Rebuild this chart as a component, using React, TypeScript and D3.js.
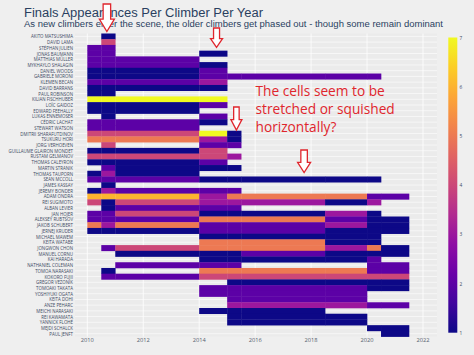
import React from 'react';
import * as d3 from 'd3';

const title = 'Finals Appearances Per Climber Per Year';
const subtitle = 'As new climbers enter the scene, the older climbers get phased out - though some remain dominant';

const climbers = [
  'AKITO MATSUSHIMA', 'DAVID LAMA', 'STÉPHAN JULIEN', 'JONAS BAUMANN', 'MATTHIAS MÜLLER',
  'MYKHAYLO SHALAGIN', 'DANIEL WOODS', 'GABRIELE MORONI', 'KLEMEN BECAN', 'DAVID BARRANS',
  'PAUL ROBINSON', 'KILIAN FISCHHUBER', 'LOÏC GAIDOZ', 'EDWARD FEEHALLY', 'LUKAS ENNEMOSER',
  'CÉDRIC LACHAT', 'STEWART WATSON', 'DMITRII SHARAFUTDINOV', 'TSUKURU HORI', 'JORG VERHOEVEN',
  'GUILLAUME GLAIRON MONDET', 'RUSTAM GELMANOV', 'THOMAS CALEYRON', 'MARTIN STRANIK', 'THOMAS TAUPORN',
  'SEAN MCCOLL', 'JAMES KASSAY', 'JEREMY BONDER', 'ADAM ONDRA', 'REI SUGIMOTO',
  'ALBAN LEVIER', 'JAN HOJER', 'ALEKSEY RUBTSOV', 'JAKOB SCHUBERT', 'JERNEJ KRUDER',
  'MICHAEL MAWEM', 'KEITA WATABE', 'JONGWON CHON', 'MANUEL CORNU', 'KAI HARADA',
  'NATHANIEL COLEMAN', 'TOMOA NARASAKI', 'KOKORO FUJII', 'GREGOR VEZONIK', 'TOMOAKI TAKATA',
  'YOSHIYUKI OGATA', 'KEITA DOHI', 'ANZE PEHARC', 'MEICHI NARASAKI', 'REI KAWAMATA',
  'YANNICK FLOHÉ', 'MEJDI SCHALCK', 'PAUL JENFT',
];

// Year boundaries of the (uneven) heatmap columns
const columnEdges = [2010, 2010.5, 2011, 2014, 2015, 2015.5, 2018.5, 2020, 2020.5, 2021.5];

const _ = null;
// Finals appearances per climber (rows) per column
const appearances: (number | null)[][] = [
  [_, 1, _, _, _, _, _, _, _],
  [_, 4, _, _, _, _, _, _, _],
  [2, 2, _, _, _, _, _, _, _],
  [2, 2, _, 1, _, _, _, _, _],
  [2, 2, 2, _, _, _, _, _, _],
  [2, 2, 2, 1, _, _, _, _, _],
  [1, 1, 1, 2, _, _, _, _, _],
  [1, 1, 1, 2, 2, 2, 2, 2, _],
  [2, 2, 2, 3, _, _, _, _, _],
  [1, 1, 1, 1, _, _, _, _, _],
  [1, 1, _, _, _, _, _, _, _],
  [7, 7, 7, 7, _, _, _, _, _],
  [1, 1, 1, 2, _, _, _, _, _],
  [1, 1, 1, _, _, _, _, _, _],
  [_, 1, _, 2, _, _, _, _, _],
  [2, 2, 2, 1, _, _, _, _, _],
  [2, 2, 2, _, _, _, _, _, _],
  [4, 4, 4, 7, 1, _, _, _, _],
  [5, 5, 5, 3, 1, _, _, _, _],
  [_, 4, _, 2, 2, _, _, _, _],
  [1, 1, 1, 4, _, _, _, _, _],
  [4, 4, 4, 4, 3, _, _, _, _],
  [1, 1, 1, 2, _, _, _, _, _],
  [_, 2, 1, 1, 1, _, _, _, _],
  [1, 3, 1, _, _, _, _, _, _],
  [2, 2, 2, 1, 1, 1, 1, 1, _],
  [_, 1, _, _, _, _, _, _, _],
  [1, 3, 2, 2, 2, _, _, _, _],
  [6, 6, 6, 3, 5, 5, 5, 2, 2],
  [4, 1, 4, 3, 3, 3, 1, 3, _],
  [_, 1, 2, 2, 2, _, _, _, _],
  [2, 2, 4, 1, 1, 1, 3, 1, _],
  [2, 2, 2, 5, 5, 5, 2, 1, 1],
  [5, 3, 5, 2, 2, 2, 3, 1, 1],
  [1, 1, 1, 2, 2, 2, 1, 1, 1],
  [_, _, _, 1, 1, 1, 1, 1, _],
  [_, _, _, 5, 5, 5, 1, 1, _],
  [_, 2, 4, 5, 5, 5, 3, 5, 1],
  [_, _, 1, 1, 1, 2, 1, 1, 1],
  [_, _, _, 1, 1, 1, 1, 2, _],
  [_, _, 2, 2, 2, _, _, 2, 2],
  [_, 1, _, 5, 5, 5, 5, 2, 2],
  [_, 2, 2, 4, 4, 4, 4, 4, 4],
  [_, _, _, _, 1, 1, 1, 1, 1],
  [_, _, _, 2, 2, 2, 2, 1, 1],
  [_, _, _, 2, 2, 2, 2, _, _],
  [_, _, _, _, 2, 2, 2, _, _],
  [_, _, _, _, 3, 3, 3, 2, 2],
  [_, _, _, 1, 1, 1, _, _, _],
  [_, _, _, _, 1, 1, 1, _, _],
  [_, _, _, _, 1, 1, 1, _, _],
  [_, _, _, _, _, _, _, 1, 1],
  [_, _, _, _, _, _, _, _, 1],
];

const xTicks = [2010, 2012, 2014, 2016, 2018, 2020, 2022];
const colorTicks = [1, 2, 3, 4, 5, 6, 7];
const noteLines = ['The cells seem to be', 'stretched or squished', 'horizontally?'];
// Annotation arrows: year position, top and tip y, head width
const arrows = [
  { year: 2010.7, top: 4, tip: 31.5, w: 15 },
  { year: 2014.62, top: 28, tip: 47.3, w: 12 },
  { year: 2015.33, top: 107, tip: 130, w: 11 },
  { year: 2017.75, top: 150, tip: 172.5, w: 13 },
];

const W = 474;
const H = 355;
const plot = { left: 75, right: 437, top: 33.5, bottom: 336.6 };
const FONT = '"Open Sans", verdana, arial, sans-serif';
const HEAD_FONT = '"Liberation Sans", Arial, sans-serif';

export default function App() {
  const x = d3.scaleLinear().domain([2010, 2021.5]).range([87.3, 409]);
  const y = d3.scaleBand<string>().domain(climbers).range([plot.top, plot.bottom]).padding(0);
  const color = (v: number) => d3.interpolatePlasma((v - 1) / 6);
  const cb = d3.scaleLinear().domain([1, 7]).range([332.7, 37.5]);

  const cells: JSX.Element[] = [];
  appearances.forEach((row, ri) => {
    row.forEach((v, ci) => {
      if (v == null) return;
      const x0 = x(columnEdges[ci]);
      const x1 = x(columnEdges[ci + 1]);
      cells.push(
        <rect
          key={`${ri}-${ci}`}
          x={x0}
          y={y(climbers[ri])!}
          width={x1 - x0 + 0.3}
          height={y.bandwidth() + 0.3}
          fill={color(v)}
        />
      );
    });
  });

  const gradStops = d3.range(0, 1.0001, 0.1);
  const arrowPath = (a: { year: number; top: number; tip: number; w: number }) => {
    const cx = x(a.year);
    const hw = a.w / 2;
    const sw = a.w * 0.25;
    const yh = a.tip - (a.tip - a.top) * 0.45;
    return `M${cx - sw},${a.top}L${cx + sw},${a.top}L${cx + sw},${yh}L${cx + hw},${yh}L${cx},${a.tip}L${cx - hw},${yh}L${cx - sw},${yh}Z`;
  };

  return (
    <div style={{ position: 'absolute', left: 0, top: 0 }}>
      <svg width={W} height={H} style={{ display: 'block', fontFamily: FONT }}>
        <defs>
          <linearGradient id="plasma" x1="0" y1="1" x2="0" y2="0">
            {gradStops.map((t) => (
              <stop key={t} offset={`${t * 100}%`} stopColor={d3.interpolatePlasma(t)} />
            ))}
          </linearGradient>
        </defs>
        <rect x={0} y={0} width={W} height={H} fill="#efefef" />
        <rect x={plot.left} y={plot.top} width={plot.right - plot.left} height={plot.bottom - plot.top} fill="#ebebeb" />
        {climbers.map((c) => (
          <line
            key={`g-${c}`}
            x1={plot.left}
            x2={plot.right}
            y1={y(c)! + y.bandwidth() / 2}
            y2={y(c)! + y.bandwidth() / 2}
            stroke="#ffffff"
            strokeWidth={0.6}
          />
        ))}
        {xTicks.map((t) => (
          <line key={`vg-${t}`} x1={x(t)} x2={x(t)} y1={plot.top} y2={plot.bottom} stroke="#ffffff" strokeWidth={0.8} />
        ))}
        {cells}
        {climbers.map((c) => (
          <text
            key={`yl-${c}`}
            x={73}
            y={y(c)! + y.bandwidth() / 2}
            textAnchor="end"
            dominantBaseline="central"
            fontSize={4.4}
            fill="#3d4a63"
          >
            {c}
          </text>
        ))}
        {xTicks.map((t) => (
          <text key={`xl-${t}`} x={x(t)} y={342.3} textAnchor="middle" fontSize={5.7} fill="#555d6e">
            {t}
          </text>
        ))}
        <rect x={448.3} y={cb(7)} width={9} height={cb(1) - cb(7)} fill="url(#plasma)" />
        {colorTicks.map((t) => (
          <text key={`cb-${t}`} x={459.5} y={cb(t)} dominantBaseline="central" fontSize={4.8} fill="#3d4a63">
            {t}
          </text>
        ))}
        <text x={24} y={16.5} fontSize={12.5} fill="#2a3f5f" fontFamily={HEAD_FONT} textLength={239} lengthAdjust="spacingAndGlyphs">
          {title}
        </text>
        <text x={24} y={27.4} fontSize={8.9} fill="#2a3f5f" fontFamily={HEAD_FONT} textLength={419} lengthAdjust="spacingAndGlyphs">
          {subtitle}
        </text>
        {noteLines.map((l, i) => (
          <text key={`n-${i}`} x={255.5} y={95.7 + i * 18} fontSize={13.7} fill="#e0262d">
            {l}
          </text>
        ))}
        {arrows.map((a, i) => (
          <path key={`a-${i}`} d={arrowPath(a)} fill="#ffffff" stroke="#e0262d" strokeWidth={1.3} strokeLinejoin="miter" />
        ))}
      </svg>
    </div>
  );
}
